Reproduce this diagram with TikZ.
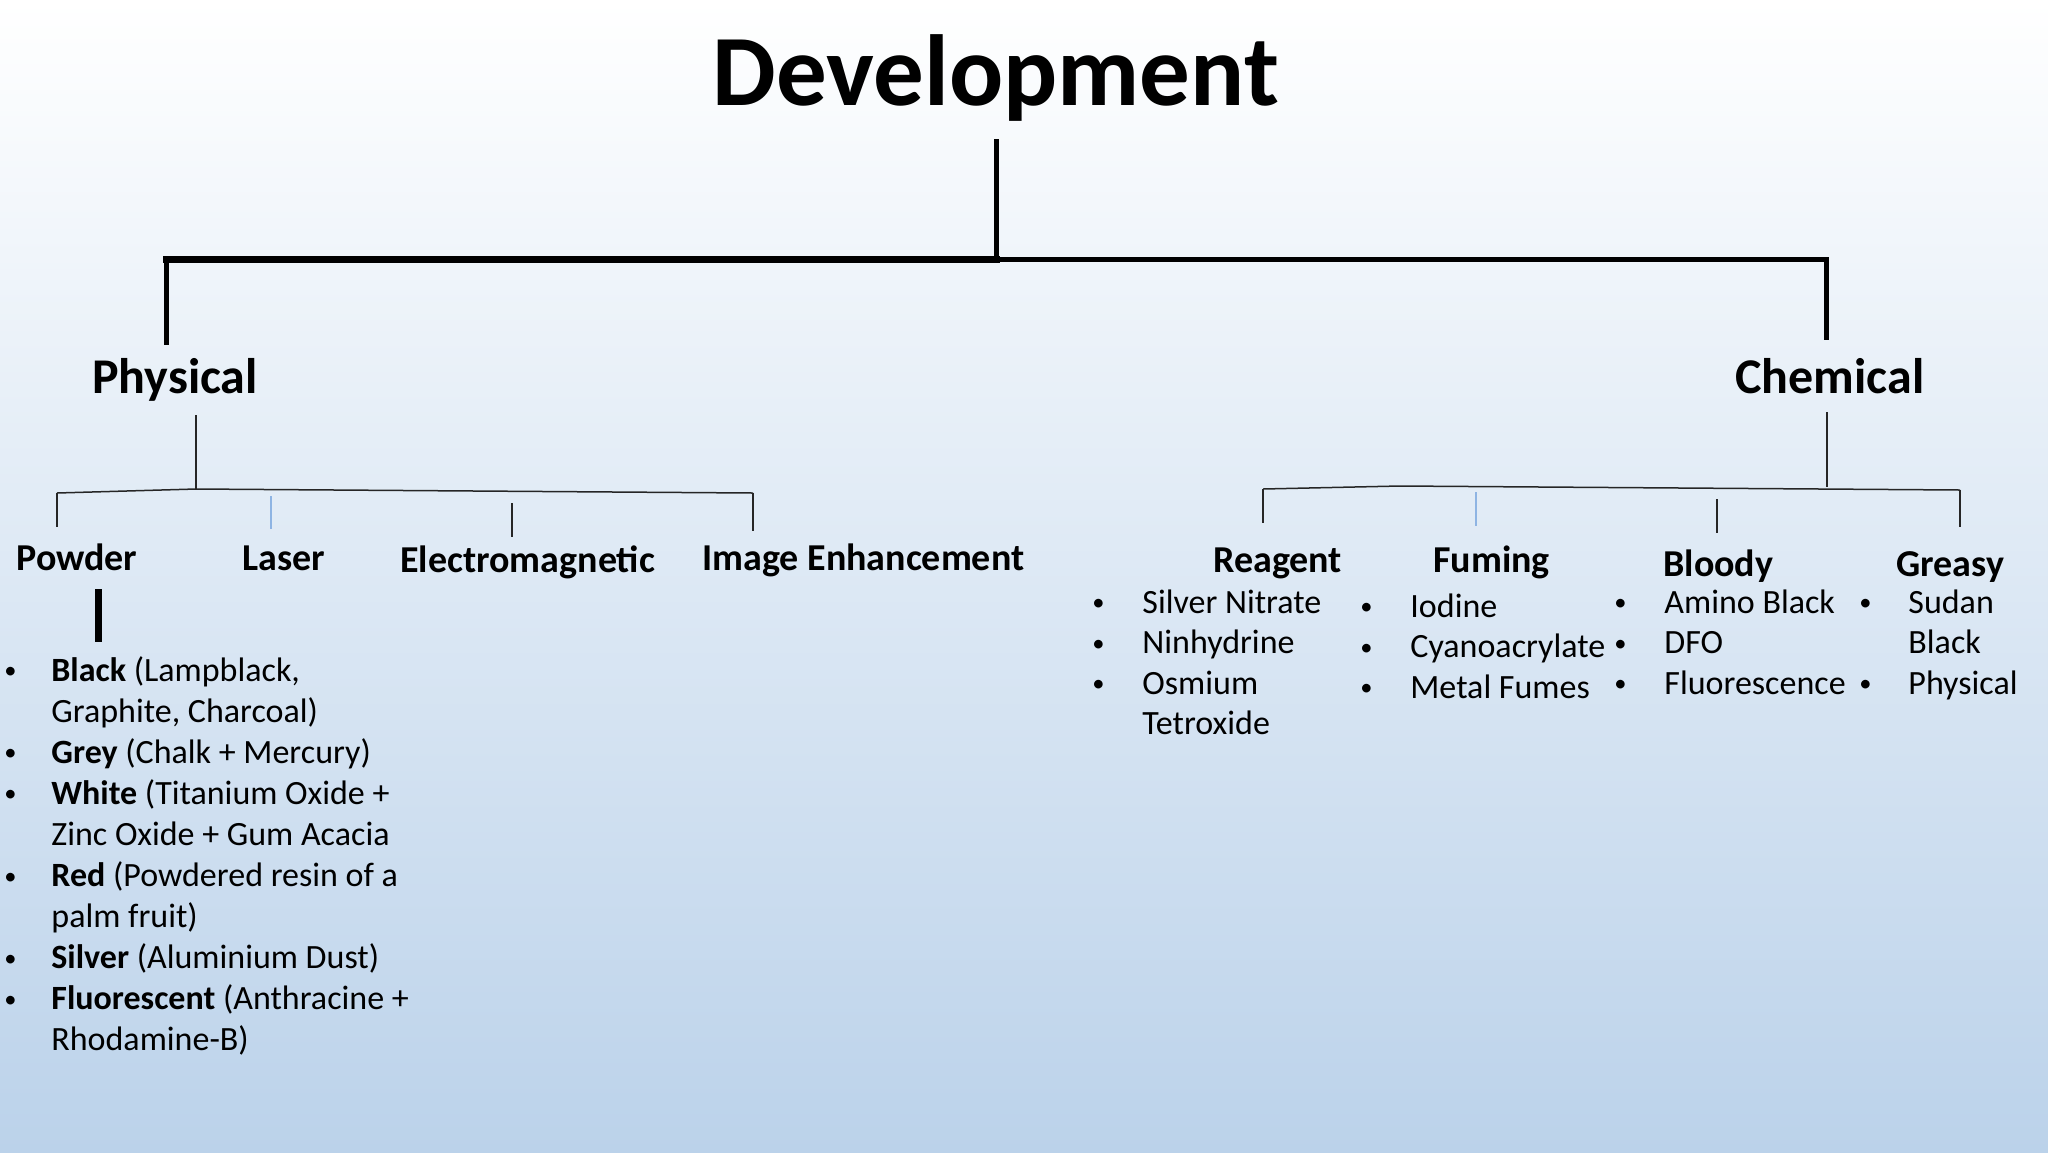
\documentclass[tikz,border=0pt]{standalone}
\usepackage{fontspec}
\setmainfont{Carlito}
\definecolor{bgtop}{HTML}{FFFFFF}
\definecolor{bgmid}{HTML}{DCE7F3}
\definecolor{bgbottom}{HTML}{BBD2EA}
\definecolor{palelink}{HTML}{8EB4E3}
\newcommand{\bul}{\makebox[0pt]{\raisebox{0.07em}{\scalebox{0.72}{•}}}}

\begin{document}
\begin{tikzpicture}[x=0.5pt, y=-0.5pt, title/.style={font=\fontsize{50.5}{60}\selectfont\bfseries, inner sep=0, anchor=base}, branch/.style={font=\fontsize{25}{30}\selectfont\bfseries, inner sep=0, anchor=base}, kind/.style={font=\fontsize{19}{23}\selectfont\bfseries, inner sep=0, anchor=base west}, items/.style={font=\fontsize{17}{20.3}\selectfont, inner sep=0, anchor=base west}, trunk/.style={line width=2.5pt, line cap=rect}, heavy/.style={line width=3.5pt, line cap=rect}, twig/.style={line width=0.75pt, draw=black!85}, pale/.style={line width=0.6pt, draw=palelink}]
        % background
        \shade[top color=bgtop, middle color=bgmid, bottom color=bgbottom] (0,0) rectangle (2048,1152);
        \useasboundingbox (0,0) rectangle (2048,1152);
        % nodes
        \node[title] (dev) at (996,105) {Development};
        \node[branch] (phys) at (175,393) {Physical};
        \node[branch] (chem) at (1830,393) {Chemical};
        \node[kind] (pow) at (16,570) {Powder};
        \node[kind] (las) at (242,570) {Laser};
        \node[kind] (em) at (400,572) {Electromagnetic};
        \node[kind] (img) at (702,570) {Image Enhancement};
        \node[kind] (rea) at (1213,572) {Reagent};
        \node[kind] (fum) at (1433,572) {Fuming};
        \node[kind] (blo) at (1663,576) {Bloody};
        \node[kind] (gre) at (1896,576) {Greasy};
        % lists
        \node[items, font=\fontsize{17}{20.55}\selectfont] (powlist) at (10,681) {\begin{tabular}[t]{@{}p{20.5pt}@{}l@{}}
            \bul & \textbf{Black} (Lampblack,\\
                 & Graphite, Charcoal)\\
            \bul & \textbf{Grey} (Chalk + Mercury)\\
            \bul & \textbf{White} (Titanium Oxide +\\
                 & Zinc Oxide + Gum Acacia\\
            \bul & \textbf{Red} (Powdered resin of a\\
                 & palm fruit)\\
            \bul & \textbf{Silver} (Aluminium Dust)\\
            \bul & \textbf{Fluorescent} (Anthracine +\\
                 & Rhodamine-B)
        \end{tabular}};
        \node[items] (realist) at (1098,613) {\begin{tabular}[t]{@{}p{22pt}@{}l@{}}
            \bul & Silver Nitrate\\
            \bul & Ninhydrine\\
            \bul & Osmium\\
                 & Tetroxide
        \end{tabular}};
        \node[items] (fumlist) at (1366,617) {\begin{tabular}[t]{@{}p{22pt}@{}l@{}}
            \bul & Iodine\\
            \bul & Cyanoacrylate\\
            \bul & Metal Fumes
        \end{tabular}};
        \node[items] (blolist) at (1620,613) {\begin{tabular}[t]{@{}p{22pt}@{}l@{}}
            \bul & Amino Black\\
            \bul & DFO\\
            \bul & Fluorescence
        \end{tabular}};
        \node[items] (grelist) at (1865,613) {\begin{tabular}[t]{@{}p{21.5pt}@{}l@{}}
            \bul & Sudan\\
                 & Black\\
            \bul & Physical
        \end{tabular}};
        % joints
        \coordinate (j) at (996,259);
        \coordinate (jl) at (166,259);
        \coordinate (jr) at (1826,259);
        \coordinate (pl) at (57,493);
        \coordinate (pm) at (196,489);
        \coordinate (pr) at (753,493);
        \coordinate (cl) at (1263,489);
        \coordinate (cm) at (1400,486);
        \coordinate (cr) at (1960,490);
        \coordinate (lz) at (271,496);
        \coordinate (el) at (512,503);
        \coordinate (fm) at (1476,492);
        \coordinate (bd) at (1717,499);
        \coordinate (pd) at (98,589);
        % edges
        \draw[trunk] (dev.base) ++(0,36) -- (j);
        \draw[heavy] (jl) -- (j);
        \draw[trunk] (j) -- (jr);
        \draw[trunk] (jl) -- ++(0,83);
        \draw[trunk] (jr) -- ++(0,78);
        \draw[twig] (phys.base) ++(21,22) -- (pm);
        \draw[twig] (pl) -- (pm) -- (pr);
        \draw[twig] (pl) -- ++(0,34);
        \draw[pale] (lz) -- ++(0,33);
        \draw[twig] (el) -- ++(0,34);
        \draw[twig] (pr) -- ++(0,38);
        \draw[twig] (chem.base) ++(-3,19) -- ++(0,75);
        \draw[twig] (cl) -- (cm) -- (cr);
        \draw[twig] (cl) -- ++(0,34);
        \draw[pale] (fm) -- ++(0,34);
        \draw[twig] (bd) -- ++(0,34);
        \draw[twig] (cr) -- ++(0,37);
        \draw[line width=3.5pt] (pd) -- ++(0,53);
    \end{tikzpicture}
\end{document}
